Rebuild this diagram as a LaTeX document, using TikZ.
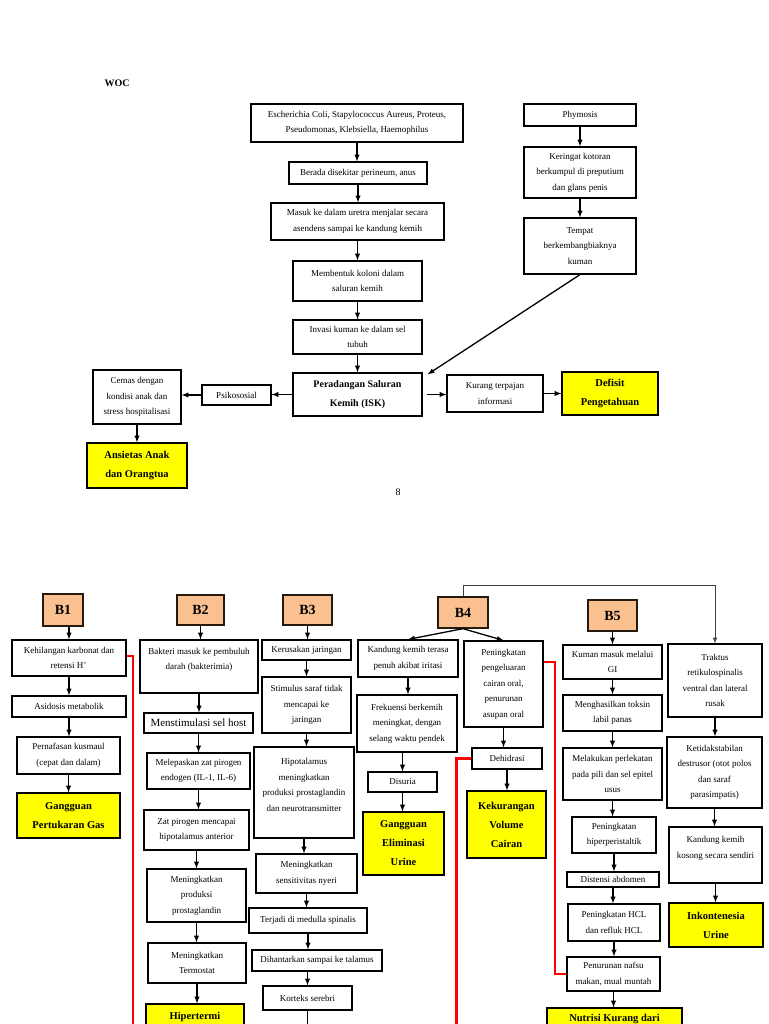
\documentclass[tikz,border=0pt]{standalone}
\usepackage{fontspec}
\setmainfont{Liberation Serif}
\usetikzlibrary{arrows,positioning,calc}
\definecolor{kuning}{RGB}{255,255,0}
\definecolor{oranye}{RGB}{250,192,143}
\tikzstyle{box} = [draw=black, line width=1.2pt, align=center, inner sep=1pt, font=\fontsize{9}{15.5}\selectfont]
\tikzstyle{dx} = [box, fill=kuning, font=\bfseries\fontsize{10.5}{19}\selectfont]
\tikzstyle{bx} = [draw=black!80!brown, line width=1.3pt, fill=oranye, font=\bfseries\fontsize{14}{16}\selectfont]
\tikzstyle{arrow} = [line width=1.3pt,->,>=latex]
\tikzstyle{redline} = [red, line width=2.2pt]
\tikzset{wh/.style 2 args={minimum width=#1, minimum height=#2}}

\begin{document}
\begin{tikzpicture}[x=1pt,y=-1pt]
\useasboundingbox (0,0) rectangle (768,1024);
% bagian atas: WOC
\node[font=\bfseries\fontsize{10}{12}\selectfont] (woc) at (117,83) {WOC};
\node[box, wh={212}{38}] (ecoli) at (357,123) {Escherichia Coli, Stapylococcus Aureus, Proteus,\\Pseudomonas, Klebsiella, Haemophilus};
\node[box, wh={138}{22}] (berada) at (358,173) {Berada disekitar perineum, anus};
\node[box, wh={173}{37}] (uretra) at (357.5,221.5) {Masuk ke dalam uretra menjalar secara\\asendens sampai ke kandung kemih};
\node[box, wh={129}{40}] (koloni) at (357.5,281) {Membentuk koloni dalam\\saluran kemih};
\node[box, wh={129}{34}] (invasi) at (357.5,337) {Invasi kuman ke dalam sel\\tubuh};
\node[box, wh={129}{43}, font=\bfseries\fontsize{10}{19}\selectfont] (isk) at (357.5,394.5) {Peradangan Saluran\\Kemih (ISK)};
\node[box, wh={69}{20}] (psiko) at (236.5,395) {Psikososial};
\node[box, wh={88}{54}] (cemas) at (137,397) {Cemas dengan\\kondisi anak dan\\stress hospitalisasi};
\node[dx, wh={100}{45}] (ansietas) at (137,465.5) {Ansietas Anak\\dan Orangtua};
\node[box, wh={96}{37}] (terpajan) at (495,393.5) {Kurang terpajan\\informasi};
\node[dx, wh={96}{43}] (defisit) at (610,393.5) {Defisit\\Pengetahuan};
\node[box, wh={112}{22}] (phymosis) at (580,115) {Phymosis};
\node[box, wh={112}{51}] (keringat) at (580,172.5) {Keringat kotoran\\berkumpul di preputium\\dan glans penis};
\node[box, wh={112}{56}] (tempat) at (580,246) {Tempat\\berkembangbiaknya\\kuman};
\node[font=\fontsize{10}{12}\selectfont] (hal) at (398,492) {8};

\foreach \a/\b in {ecoli/berada, berada/uretra, uretra/koloni, koloni/invasi, invasi/isk,
                   phymosis/keringat, keringat/tempat, cemas/ansietas}
  \draw[arrow] (\a) -- (\a |- \b.north);
\draw[arrow] (tempat.south) -- ([xshift=5pt,yshift=-2pt]isk.north east);
\draw[arrow] (isk.west) -- (isk.west -| psiko.east);
\draw[arrow] (psiko.west) -- (psiko.west -| cemas.east);
\draw[arrow, shorten <=4pt] (isk.east) -- (isk.east -| terpajan.west);
\draw[arrow] (terpajan.east) -- (terpajan.east -| defisit.west);

% bagian bawah: B1 - B5
\node[bx, wh={40}{32}] (b1) at (63,610) {B1};
\node[box, wh={114}{36}] (karbonat) at (69,658) {Kehilangan karbonat dan\\retensi H\textsuperscript{+}};
\node[box, wh={114}{21}] (asidosis) at (69,706.5) {Asidosis metabolik};
\node[box, wh={103}{37}] (kusmaul) at (68.5,755.5) {Pernafasan kusmaul\\(cepat dan dalam)};
\node[dx, wh={103}{45}] (gasdx) at (68.5,815.5) {Gangguan\\Pertukaran Gas};

\node[bx, wh={47}{30}] (b2) at (200.5,610) {B2};
\node[box, wh={118}{53}] (bakteri) at (199,666.5) {Bakteri masuk ke pembuluh\\darah (bakterimia)\\~};
\node[box, wh={109}{20}, font=\fontsize{11}{13}\selectfont] (host) at (198.5,723) {Menstimulasi sel host};
\node[box, wh={103}{36}] (pirogen) at (198.5,771) {Melepaskan zat pirogen\\endogen (IL-1, IL-6)};
\node[box, wh={105}{40}] (hipant) at (196.5,830) {Zat pirogen mencapai\\hipotalamus anterior};
\node[box, wh={99}{53}] (prosta) at (196.5,895.5) {Meningkatkan\\produksi\\prostaglandin};
\node[box, wh={98}{40}] (termostat) at (197,963) {Meningkatkan\\Termostat};
\node[dx, wh={98}{26}] (hiperdx) at (195,1017) {Hipertermi};

\node[bx, wh={49}{30}] (b3) at (307.5,610) {B3};
\node[box, wh={89}{20}] (rusak) at (306.5,650) {Kerusakan jaringan};
\node[box, wh={89}{56}] (stimulus) at (306.5,705) {Stimulus saraf tidak\\mencapai ke\\jaringan};
\node[box, wh={100}{91}] (hipotal) at (304,792.5) {Hipotalamus\\meningkatkan\\produksi prostaglandin\\dan neurotransmitter\\~};
\node[box, wh={101}{39}] (nyeri) at (306.5,873.5) {Meningkatkan\\sensitivitas nyeri};
\node[box, wh={118}{25}] (medulla) at (308,920.5) {Terjadi di medulla spinalis};
\node[box, wh={130}{21}] (talamus) at (317,960.5) {Dihantarkan sampai ke talamus};
\node[box, wh={89}{24}] (korteks) at (307.5,998) {Korteks serebri};
\coordinate (korteks-b) at (307.5,1032);

\node[bx, wh={50}{31}] (b4) at (463,612.5) {B4};
\node[box, wh={100}{37}] (iritasi) at (408,658.5) {Kandung kemih terasa\\penuh akibat iritasi};
\node[box, wh={100}{57}] (frekuensi) at (407,723.5) {Frekuensi berkemih\\meningkat, dengan\\selang waktu pendek};
\node[box, wh={69}{20}] (disuria) at (402.5,782) {Disuria};
\node[dx, wh={81}{63}] (elimdx) at (403.5,843.5) {Gangguan\\Eliminasi\\Urine};
\node[box, wh={79}{86}] (cairan) at (503.5,684) {Peningkatan\\pengeluaran\\cairan oral,\\penurunan\\asupan oral};
\node[box, wh={70}{21}] (dehidrasi) at (507,758.5) {Dehidrasi};
\node[dx, wh={79}{67}] (volumedx) at (506.5,824.5) {Kekurangan\\Volume\\Cairan};

\node[bx, wh={49}{31}] (b5) at (612.5,615.5) {B5};
\node[box, wh={99}{34}] (gi) at (612.5,662) {Kuman masuk melalui\\GI};
\node[box, wh={99}{36}] (toksin) at (612.5,713) {Menghasilkan toksin\\labil panas};
\node[box, wh={99}{52}] (pili) at (612.5,774) {Melakukan perlekatan\\pada pili dan sel epitel\\usus};
\node[box, wh={84}{36}] (peristaltik) at (614,835) {Peningkatan\\hiperperistaltik};
\node[box, wh={92}{15}] (distensi) at (613,879.5) {Distensi abdomen};
\node[box, wh={92}{37}] (hcl) at (614,922.5) {Peningkatan HCL\\dan refluk HCL};
\node[box, wh={93}{34}] (nafsu) at (613.5,974) {Penurunan nafsu\\makan, mual muntah};
\node[dx, wh={135}{22}] (nutrisidx) at (614.5,1019) {Nutrisi Kurang dari};

\node[box, wh={94}{73}] (traktus) at (715,680.5) {Traktus\\retikulospinalis\\ventral dan lateral\\rusak};
\node[box, wh={95}{71}] (destrusor) at (714.5,772.5) {Ketidakstabilan\\destrusor (otot polos\\dan saraf\\parasimpatis)};
\node[box, wh={93}{56}] (kosong) at (715.5,855) {Kandung kemih\\kosong secara sendiri\\~};
\node[dx, wh={94}{44}] (inkontdx) at (716,925) {Inkontenesia\\Urine};

\foreach \a/\b in {karbonat/asidosis, asidosis/kusmaul, kusmaul/gasdx,
                   b2/bakteri, bakteri/host, host/pirogen, pirogen/hipant, hipant/prosta, prosta/termostat, termostat/hiperdx,
                   b3/rusak, rusak/stimulus, stimulus/hipotal, hipotal/nyeri, nyeri/medulla, medulla/talamus,
                   iritasi/frekuensi, disuria/elimdx, cairan/dehidrasi, dehidrasi/volumedx,
                   b5/gi, gi/toksin, toksin/pili, pili/peristaltik, peristaltik/distensi, distensi/hcl, hcl/nafsu, nafsu/nutrisidx,
                   traktus/destrusor, destrusor/kosong, kosong/inkontdx}
  \draw[arrow] (\a) -- (\a |- \b.north);
\draw[arrow] (karbonat |- b1.south) -- (karbonat);
\draw[arrow] (disuria |- frekuensi.south) -- (disuria);
\draw[arrow] (korteks |- talamus.south) -- (korteks);
\draw[arrow] (korteks) -- (korteks-b);
\draw[arrow] (b4.south) -- (iritasi.north);
\draw[arrow] (b4.south) -- (cairan.north);
\draw[line width=1pt, black!75, ->, >=latex] (b4.north) -- ++(0,-11) -| (traktus.north);

% garis merah
\draw[redline] ([yshift=2pt]karbonat.east) -- ++(6,0) -- ++(0,380);
\draw[redline] (dehidrasi.west) -- ++(-15,0) -- ++(0,280);
\draw[redline] ([yshift=22pt]cairan.east) -- ++(11,0) |- (nafsu.west);
\end{tikzpicture}
\end{document}
